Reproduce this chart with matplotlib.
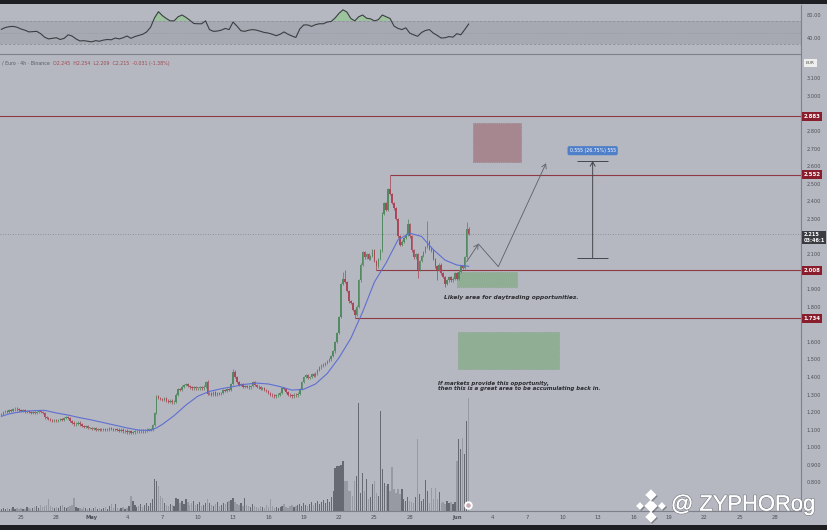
import matplotlib
matplotlib.use('Agg')

import matplotlib.pyplot as plt
import matplotlib.dates as mdates
import matplotlib.patheffects as pe
from matplotlib.patches import Rectangle
import numpy as np
import pandas as pd

#=====Data (4h candles, Euro pair)=====
CANDLE_START = '2021-04-23 08:00'
FIRST_OPEN = 1.185

closes = [
    1.190, 1.200, 1.205, 1.200,                 # Apr 23
    1.210, 1.205, 1.215, 1.220, 1.215, 1.210,   # Apr 24
    1.205, 1.210, 1.200, 1.205, 1.200, 1.195,   # Apr 25
    1.200, 1.195, 1.200, 1.205, 1.200, 1.195,   # Apr 26
    1.170, 1.165, 1.160, 1.155, 1.150, 1.155,   # Apr 27
    1.150, 1.155, 1.160, 1.155, 1.165, 1.170,   # Apr 28
    1.165, 1.150, 1.140, 1.130, 1.135, 1.140,   # Apr 29
    1.130, 1.120, 1.115, 1.120, 1.110, 1.110,   # Apr 30
    1.105, 1.110, 1.100, 1.105, 1.100, 1.100,   # May 1
    1.105, 1.100, 1.100, 1.110, 1.105, 1.100,   # May 2
    1.105, 1.100, 1.095, 1.100, 1.090, 1.095,   # May 3
    1.085, 1.090, 1.080, 1.085, 1.090, 1.095,   # May 4
    1.090, 1.095, 1.090, 1.095, 1.100, 1.100,   # May 5
    1.100, 1.125, 1.195, 1.290, 1.280, 1.275,   # May 6
    1.270, 1.280, 1.265, 1.260, 1.265, 1.255,   # May 7
    1.260, 1.300, 1.330, 1.325, 1.345, 1.355,   # May 8
    1.360, 1.350, 1.340, 1.335, 1.340, 1.335,   # May 9
    1.335, 1.340, 1.335, 1.345, 1.370, 1.305,   # May 10
    1.310, 1.300, 1.315, 1.300, 1.310, 1.305,   # May 11
    1.310, 1.325, 1.320, 1.330, 1.325, 1.360,   # May 12
    1.430, 1.400, 1.370, 1.355, 1.360, 1.345,   # May 13
    1.350, 1.345, 1.340, 1.350, 1.370, 1.355,   # May 14
    1.345, 1.340, 1.330, 1.335, 1.325, 1.320,   # May 15
    1.310, 1.300, 1.295, 1.290, 1.295, 1.300,   # May 16
    1.310, 1.335, 1.330, 1.315, 1.300, 1.295,   # May 17
    1.290, 1.300, 1.295, 1.305, 1.330, 1.370,   # May 18
    1.400, 1.410, 1.395, 1.400, 1.415, 1.405,   # May 19
    1.420, 1.440, 1.455, 1.465, 1.470, 1.480,   # May 20
    1.490, 1.500, 1.520, 1.545, 1.600, 1.650,   # May 21
    1.740, 1.930, 1.960, 1.940, 1.890, 1.830,   # May 22
    1.820, 1.780, 1.755, 1.800, 1.950, 2.040,   # May 23
    2.110, 2.080, 2.100, 2.070, 2.090, 2.120,   # May 24
    2.060, 2.030, 2.070, 2.120, 2.330, 2.390,   # May 25
    2.350, 2.470, 2.440, 2.390, 2.360, 2.300,   # May 26
    2.200, 2.150, 2.170, 2.190, 2.210, 2.270,   # May 27
    2.200, 2.120, 2.080, 2.100, 2.010, 2.060,   # May 28
    2.090, 2.110, 2.140, 2.170, 2.130, 2.120,   # May 29
    2.070, 2.030, 2.010, 2.040, 1.990, 1.970,   # May 30
    1.930, 1.950, 1.970, 1.950, 1.960, 1.990,   # May 31
    1.960, 2.000, 2.030, 2.020, 2.080, 2.245,   # Jun 1
    2.215,                                      # Jun 2
]

volumes = [
    2, 3, 2, 3,
    2, 3, 4, 2, 3, 2,
    3, 2, 2, 4, 3, 2,
    3, 4, 5, 3, 6, 4,
    5, 6, 12, 5, 4, 3,
    4, 3, 5, 6, 4, 3,
    4, 5, 6, 13, 4, 3,
    3, 2, 4, 3, 2, 3,
    2, 3, 4, 2, 3, 2,
    3, 4, 2, 5, 7, 3,
    7, 3, 2, 3, 4, 2,
    3, 5, 15, 10, 6, 4,
    5, 7, 4, 6, 8, 5,
    8, 12, 32, 30, 25, 15,
    13, 8, 6, 5, 7, 6,
    5, 13, 12, 8, 10, 7,
    12, 9, 6, 8, 10, 6,
    7, 9, 5, 6, 8, 12,
    8, 6, 5, 7, 9, 5,
    6, 8, 7, 9, 10, 11,
    13, 9, 7, 6, 8, 5,
    13, 6, 5, 4, 7, 5,
    4, 3, 5, 4, 3, 6,
    4, 12, 5, 3, 4, 3,
    4, 5, 7, 4, 3, 5,
    6, 4, 5, 6, 7, 5,
    8, 6, 5, 7, 9, 6,
    8, 10, 7, 9, 11, 8,
    12, 9, 14, 20, 43, 45,
    45, 46, 50, 30, 30, 20,
    20, 15, 30, 35, 108, 18,
    38, 20, 32, 12, 14, 27,
    30, 18, 15, 100, 42, 28,
    25, 27, 20, 44, 22, 18,
    22, 17, 22, 12, 10, 14,
    10, 9, 8, 14, 72, 17,
    10, 12, 31, 20, 8, 23,
    12, 23, 12, 19, 8, 9,
    7, 10, 8, 9, 7, 9,
    50, 72, 62, 73, 57, 90,
    113,
]

wick_highs = {
    '2021-05-06 12:00': 1.300, '2021-05-10 20:00': 1.385,
    '2021-05-13 00:00': 1.445, '2021-05-22 08:00': 2.000,
    '2021-05-22 12:00': 2.010, '2021-05-26 08:00': 2.552,
    '2021-05-27 20:00': 2.300, '2021-05-29 12:00': 2.290,
    '2021-06-01 20:00': 2.284, '2021-06-02 00:00': 2.254,
}
wick_lows = {
    '2021-05-04 08:00': 1.076, '2021-05-23 08:00': 1.734,
    '2021-05-25 04:00': 2.008, '2021-05-28 16:00': 1.965,
    '2021-05-30 08:00': 1.952, '2021-05-31 00:00': 1.912,
    '2021-06-02 00:00': 2.209,
}

ma_dates = ['2021-04-23 08:00', '2021-04-24', '2021-04-25', '2021-04-26', '2021-04-27',
            '2021-04-28', '2021-04-29', '2021-04-30', '2021-05-01', '2021-05-02',
            '2021-05-03', '2021-05-04', '2021-05-05', '2021-05-06', '2021-05-06 12:00',
            '2021-05-07', '2021-05-08', '2021-05-09', '2021-05-10', '2021-05-11',
            '2021-05-12', '2021-05-13', '2021-05-14', '2021-05-15', '2021-05-16',
            '2021-05-17', '2021-05-18', '2021-05-19', '2021-05-20', '2021-05-21',
            '2021-05-22', '2021-05-23', '2021-05-24', '2021-05-25', '2021-05-26',
            '2021-05-27', '2021-05-28', '2021-05-29', '2021-05-30', '2021-05-31',
            '2021-06-01', '2021-06-02']
ma_values = [1.176, 1.190, 1.202, 1.208, 1.210, 1.195, 1.183, 1.168, 1.155, 1.140,
             1.125, 1.110, 1.097, 1.096, 1.110, 1.130, 1.180, 1.240, 1.290, 1.318,
             1.333, 1.345, 1.358, 1.365, 1.360, 1.345, 1.325, 1.330, 1.360, 1.420,
             1.510, 1.620, 1.770, 1.940, 2.050, 2.180, 2.218, 2.200, 2.125, 2.065,
             2.037, 2.030]

RSI_START = '2021-04-23 08:00'   # one value every 8h
rsi_values = [
    55.5, 58.5, 60, 60.5, 59, 56, 54, 51, 51.5, 52,
    48, 42, 39, 40, 41, 38, 40, 46, 44, 39,
    35.5, 36, 35, 34, 36, 35, 37, 38, 37.5, 40.5,
    39, 41, 44, 40, 43, 45, 47, 51, 59, 75,
    85.7, 79, 74, 70, 70, 77, 80, 76, 71, 65.5,
    65, 65, 70, 55, 52, 52.5, 54, 57, 55, 68,
    61, 53, 52, 54, 55, 54, 52, 50, 49, 47,
    44.5, 47, 51, 47, 44, 41.5, 56, 63, 63, 60.5,
    63.5, 65, 65, 68, 69, 75, 83, 89, 85, 74,
    70, 77, 80, 74.5, 73.5, 70, 72, 80, 77, 74,
    61, 57, 55, 58, 49, 46, 43.5, 50, 53.5, 55,
    49, 45, 40.5, 41, 43, 42, 48, 46, 55, 64.5,
]

tick_dates = ['2021-04-25', '2021-04-28', '2021-05-01', '2021-05-04', '2021-05-07',
              '2021-05-10', '2021-05-13', '2021-05-16', '2021-05-19', '2021-05-22',
              '2021-05-25', '2021-05-28', '2021-06-01', '2021-06-04', '2021-06-07',
              '2021-06-10', '2021-06-13', '2021-06-16', '2021-06-19', '2021-06-22',
              '2021-06-25', '2021-06-28']
tick_labels = ['25', '28', 'May', '4', '7', '10', '13', '16', '19', '22', '25', '28',
               'Jun', '4', '7', '10', '13', '16', '19', '22', '25', '28']
# labels hidden behind the price tags / watermark are left out
price_ticks = [3.1, 3.0, 2.8, 2.7, 2.6, 2.5, 2.4, 2.3, 2.1, 1.9,
               1.8, 1.6, 1.5, 1.4, 1.3, 1.2, 1.1, 1.0, 0.9, 0.8]

levels = [2.883, 2.552, 2.008, 1.734]
level_starts = ['2021-04-23', '2021-05-26 08:00', '2021-05-25 04:00', '2021-05-23 08:00']
last_price = 2.215
#======================================

W, H = 828, 530
BG = '#b5b8c0'
GREEN = '#538a62'
RED = '#a8485a'
LEVEL = '#903844'
AXCOL = '#7e8189'
TXT = '#4e5056'

def frac(x0, y0, x1, y1):
    return [x0 / W, 1 - y1 / H, (x1 - x0) / W, (y1 - y0) / H]

def dn(s):
    return mdates.date2num(pd.Timestamp(s))

fig = plt.figure(figsize=(W / 100, H / 100), dpi=100, facecolor=BG)

# x range in days (Apr 25 sits 21 px from the left, 11.78 px per day)
apr25 = dn('2021-04-25')
xlim = (apr25 - 21 / 11.78, apr25 + 780 / 11.78)

# ---- candle data ----
t = pd.date_range(CANDLE_START, periods=len(closes), freq='4h')
x = mdates.date2num(t.values)
c = np.array(closes)
o = np.array([FIRST_OPEN] + closes[:-1])
hi = np.maximum(o, c) + 0.007
lo = np.minimum(o, c) - 0.007
for k, v in wick_highs.items():
    hi[t.get_loc(pd.Timestamp(k))] = v
for k, v in wick_lows.items():
    lo[t.get_loc(pd.Timestamp(k))] = v
up = c >= o
cols = np.where(up, GREEN, RED)

# ---- volume pane (behind price) ----
axv = fig.add_axes(frac(0, 55, 801, 511))
axv.set_xlim(xlim)
axv.set_ylim(0, 456)
axv.bar(x, volumes, width=0.11, color=np.where(up, '#676a72', '#979aa2'), lw=0)
axv.axis('off')

# ---- price pane ----
ax = fig.add_axes(frac(0, 55, 801, 511), sharex=axv)
ax.set_facecolor('none')
ax.set_xlim(xlim)
ax.set_ylim(0.637, 3.2326)

ax.vlines(x, lo, hi, colors=cols, lw=0.55, zorder=3)
ax.bar(x, np.maximum(np.abs(c - o), 0.005), bottom=np.minimum(o, c), width=0.125,
       color=cols, lw=0, zorder=3)
ma_x = mdates.date2num(pd.to_datetime(ma_dates, format='ISO8601').values)
ax.plot(ma_x, ma_values, color='#5f6fd2', lw=0.8, zorder=4)

# levels
for lv, st in zip(levels, level_starts):
    ax.hlines(lv, dn(st), xlim[1], color=LEVEL, lw=0.8, zorder=2)
    ax.text(1.003, lv, f'{lv:.3f}', transform=ax.get_yaxis_transform(), ha='left',
            va='center', fontsize=3.9, color='white', fontweight='bold', clip_on=False,
            zorder=10, bbox=dict(boxstyle='square,pad=0.35', fc='#8a1d2c', ec='none'))
ax.axhline(last_price, color='#83868e', lw=0.6, ls=(0, (1, 2)), zorder=1)
ax.text(1.003, 2.194, '2.215\n03:46:1', transform=ax.get_yaxis_transform(), ha='left',
        va='center', fontsize=3.6, color='white', fontweight='bold', linespacing=1.1,
        clip_on=False, zorder=10,
        bbox=dict(boxstyle='square,pad=0.3', fc='#3a3c41', ec='none'))

# zones
ax.add_patch(Rectangle((dn('2021-06-02 09:00'), 2.622), dn('2021-06-06 10:30') - dn('2021-06-02 09:00'),
                       2.847 - 2.622, fc='#a6878f', ec='#8f6f78', lw=0.5, ls=':', zorder=2))
ax.add_patch(Rectangle((dn('2021-06-01 00:00'), 1.910), dn('2021-06-06 03:00') - dn('2021-06-01 00:00'),
                       1.997 - 1.910, fc='#8fae93', ec='#7e9c82', lw=0.5, ls=':', zorder=2))
ax.add_patch(Rectangle((dn('2021-06-01 02:30'), 1.445), dn('2021-06-09 16:00') - dn('2021-06-01 02:30'),
                       1.658 - 1.445, fc='#8fae93', ec='#7e9c82', lw=0.5, ls=':', zorder=2))

# projected path
path = [('2021-06-01 20:00', 2.056), ('2021-06-02 20:00', 2.157),
        ('2021-06-04 12:30', 2.028), ('2021-06-08 13:40', 2.616)]
pcol = '#5d6068'
for i in range(3):
    (d0, p0), (d1, p1) = path[i], path[i + 1]
    style = '-' if i == 1 else '->,head_length=0.3,head_width=0.18'
    ax.annotate('', xy=(dn(d1), p1), xytext=(dn(d0), p0),
                arrowprops=dict(arrowstyle=style, color=pcol, lw=0.6,
                                shrinkA=0, shrinkB=0), zorder=5)

# measure tool
mx = dn('2021-06-12 12:40')
ax.hlines([2.629, 2.079], dn('2021-06-11 04:00'), dn('2021-06-13 20:40'), color='#44464c', lw=0.7)
ax.annotate('', xy=(mx, 2.629), xytext=(mx, 2.079),
            arrowprops=dict(arrowstyle='->,head_length=0.3,head_width=0.18', color='#44464c',
                            lw=0.7, shrinkA=0, shrinkB=0))
ax.text(mx, 2.688, '0.555 (26.75%) 555', ha='center', va='center', fontsize=3.3,
        color='white', zorder=6,
        bbox=dict(boxstyle='round,pad=0.45,rounding_size=0.4', fc='#4f7fc9', ec='none'))

# notes
ax.text(dn('2021-05-30 22:00'), 1.850, 'Likely area for daytrading opportunities.',
        fontsize=4.2, fontweight='bold', fontstyle='italic', color='#2b2c30',
        ha='left', va='center', zorder=6)
ax.text(dn('2021-05-30 09:00'), 1.349,
        'If markets provide this opportunity,\nthen this is a great area to be accumulating back in.',
        fontsize=4.0, fontweight='bold', fontstyle='italic', color='#2b2c30',
        ha='left', va='center', linespacing=1.2, zorder=6)

# legend line
ax.text(0.0025, 0.982, '/ Euro · 4h · Binance', transform=ax.transAxes, fontsize=3.4,
        color='#5a5c62', va='center')
ax.text(0.066, 0.982, 'O2.245  H2.254  L2.209  C2.215  -0.031 (-1.38%)', transform=ax.transAxes,
        fontsize=3.4, color='#a04a52', va='center')
ax.text(1.006, 0.982, 'EUR', transform=ax.transAxes, fontsize=3.2, color='#555',
        va='center', clip_on=False,
        bbox=dict(boxstyle='square,pad=0.5', fc='#eeeeef', ec='none'))

# axes styling
ax.yaxis.tick_right()
ax.set_yticks(price_ticks)
ax.set_yticklabels([f'{p:.3f}' for p in price_ticks])
ax.set_xticks([dn(d) for d in tick_dates])
ax.set_xticklabels(tick_labels)
for lab, txt in zip(ax.get_xticklabels(), tick_labels):
    if txt in ('May', 'Jun'):
        lab.set_fontweight('bold')
ax.tick_params(axis='y', length=0, pad=4, labelsize=3.6, labelcolor=TXT)
ax.tick_params(axis='x', length=0, pad=3, labelsize=3.8, labelcolor=TXT)
for s in ('left', 'top'):
    ax.spines[s].set_visible(False)
for s in ('right', 'bottom'):
    ax.spines[s].set_color(AXCOL)
    ax.spines[s].set_linewidth(0.8)

# ---- RSI pane ----
axr = fig.add_axes(frac(0, 5, 801, 54), sharex=axv)
axr.set_facecolor(BG)
axr.set_xlim(xlim)
axr.set_ylim(13.1, 97.2)
tr = mdates.date2num(pd.date_range(RSI_START, periods=len(rsi_values), freq='8h').values)
rsi = np.array(rsi_values)
axr.axhspan(30, 70, color='#a6a9b1', lw=0)
axr.axhline(70, color='#8d9098', lw=0.6, ls=(0, (3, 2)))
axr.axhline(30, color='#8d9098', lw=0.6, ls=(0, (3, 2)))
axr.axhline(50, color='#8d9098', lw=0.5, ls=(0, (1, 2)))
axr.fill_between(tr, rsi, 70, where=rsi > 70, interpolate=True, color='#9cc39e', lw=0)
axr.plot(tr, rsi, color='#3c3e44', lw=0.8)
axr.yaxis.tick_right()
axr.set_yticks([80, 40])
axr.set_yticklabels(['80.00', '40.00'])
axr.tick_params(axis='y', length=0, pad=4, labelsize=3.6, labelcolor=TXT)
axr.tick_params(axis='x', bottom=False, labelbottom=False)
for s in ('left', 'top'):
    axr.spines[s].set_visible(False)
for s in ('right', 'bottom'):
    axr.spines[s].set_color(AXCOL)
    axr.spines[s].set_linewidth(0.8)

# ---- overlay in pixel space: frame bars, watermark ----
ov = fig.add_axes([0, 0, 1, 1], zorder=20)
ov.set_xlim(0, W)
ov.set_ylim(H, 0)
ov.axis('off')
ov.add_patch(Rectangle((0, 0), W, 4, fc='#1e1f23', ec='none'))
ov.add_patch(Rectangle((0, 525), W, 5, fc='#1e1f23', ec='none'))
ov.scatter([468], [505], s=22, marker='o', fc='#c9a9b4', ec='white', lw=1.4)

shadow = [pe.withSimplePatchShadow(offset=(0.8, -0.8), shadow_rgbFace='#3a3a3a', alpha=0.45)]
logo_x = [651, 640, 662, 651, 651]
logo_y = [506, 506, 506, 495, 517]
logo_s = [45, 16, 16, 34, 34]
ov.scatter(logo_x, logo_y, s=logo_s, marker='D', c='white', lw=0, path_effects=shadow)
ov.text(671, 505, '@ ZYPHORog', fontsize=15.8, family='Liberation Sans', color='white',
        ha='left', va='center', path_effects=[pe.withStroke(linewidth=1.2, foreground='#8a8c92'),
                                              pe.Normal()])

plt.savefig('out.png', dpi=100, facecolor=BG)
